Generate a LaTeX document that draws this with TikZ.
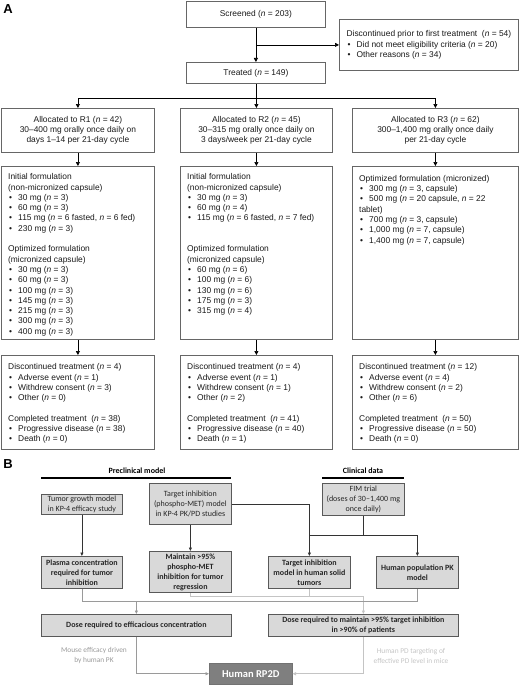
\documentclass[tikz,border=0pt]{standalone}
\usepackage{fontspec}
\setmainfont{Liberation Sans}
\newfontfamily\carl{Carlito}
\usetikzlibrary{arrows.meta}
\definecolor{bfill}{HTML}{D9D9D9}
\definecolor{bdraw}{HTML}{595959}
\definecolor{midg}{HTML}{9A9A9A}
\definecolor{ltg}{HTML}{C4C4C4}
\definecolor{rpfill}{HTML}{7F7F7F}
\newcommand{\bitem}[1]{\makebox[10pt][l]{\hspace{1pt}•}#1}
\newcommand{\nn}{\textit{n}}
\begin{document}
\begin{tikzpicture}[x=1pt,y=-1pt,
  atext/.style={font=\fontsize{8.4}{10.3}\selectfont, text=black!90},
  abox/.style={draw=black!60, line width=0.8pt, inner sep=0pt, anchor=north west, atext},
  listt/.style={inner sep=0pt, anchor=north west, align=left, atext},
  aline/.style={draw=black, line width=0.7pt},
  aarr/.style={aline, -{Triangle[length=4pt,width=4pt]}},
  bfont/.style={font=\carl\fontsize{8}{10}\selectfont},
  bbox/.style={draw=bdraw, fill=bfill, line width=0.8pt, inner sep=1pt, anchor=north west, align=center, bfont, text=black!85},
  bbold/.style={bbox, font=\carl\bfseries\fontsize{8}{10}\selectfont},
  bcon/.style={draw=black!80, line width=0.8pt},
  barr/.style={-{Triangle[length=3.5pt,width=3pt]}},
  gcon/.style={draw=midg, line width=0.8pt},
  lcon/.style={draw=ltg, line width=0.8pt},
  note/.style={align=center, inner sep=0pt, font=\carl\fontsize{7.4}{10}\selectfont},
  ttl/.style={inner sep=0pt, font=\carl\bfseries\fontsize{8}{10}\selectfont}
]
\useasboundingbox (0,0) rectangle (520,685);

% ---------- Part A ----------
\node[inner sep=0pt, font=\bfseries\fontsize{13}{13}\selectfont] (labA) at (8,9) {A};

\node[abox, minimum width=139pt, minimum height=26pt] (scr) at (186,1) {Screened (\nn{} = 203)};
\node[abox, minimum width=179pt, minimum height=51pt, align=left] (disc) at (339,19)
  {Discontinued prior to first treatment\ \ (\nn{} = 54)\\
   \bitem{Did not meet eligibility criteria (\nn{} = 20)}\\
   \bitem{Other reasons (\nn{} = 34)}};
\node[abox, minimum width=139pt, minimum height=21pt] (trt) at (186,62) {Treated (\nn{} = 149)};

\node[abox, minimum width=153pt, minimum height=44pt, align=center] (r1) at (1,108)
  {Allocated to R1 (\nn{} = 42)\\ 30–400 mg orally once daily on\\ days 1–14 per 21-day cycle};
\node[abox, minimum width=152pt, minimum height=44pt, align=center] (r2) at (180,108)
  {Allocated to R2 (\nn{} = 45)\\ 30–315 mg orally once daily on\\ 3 days/week per 21-day cycle};
\node[abox, minimum width=166pt, minimum height=44pt, align=center] (r3) at (352,108)
  {Allocated to R3 (\nn{} = 62)\\ 300–1,400 mg orally once daily\\ per 21-day cycle};

\node[abox, minimum width=153pt, minimum height=173pt] (f1) at (1,166) {};
\node[abox, minimum width=152pt, minimum height=173pt] (f2) at (180,166) {};
\node[abox, minimum width=166pt, minimum height=173pt] (f3) at (352,166) {};

\node[listt] (f1t) at ([xshift=7pt,yshift=-7.5pt]f1.north west)
  {Initial formulation\\
   (non-micronized capsule)\\
   \bitem{30 mg (\nn{} = 3)}\\
   \bitem{60 mg (\nn{} = 3)}\\
   \bitem{115 mg (\nn{} = 6 fasted, \nn{} = 6 fed)}\\
   \bitem{230 mg (\nn{} = 3)}\\[10.3pt]
   Optimized formulation\\
   (micronized capsule)\\
   \bitem{30 mg (\nn{} = 3)}\\
   \bitem{60 mg (\nn{} = 3)}\\
   \bitem{100 mg (\nn{} = 3)}\\
   \bitem{145 mg (\nn{} = 3)}\\
   \bitem{215 mg (\nn{} = 3)}\\
   \bitem{300 mg (\nn{} = 3)}\\
   \bitem{400 mg (\nn{} = 3)}};
\node[listt] (f2t) at ([xshift=7pt,yshift=-7.5pt]f2.north west)
  {Initial formulation\\
   (non-micronized capsule)\\
   \bitem{30 mg (\nn{} = 3)}\\
   \bitem{60 mg (\nn{} = 4)}\\
   \bitem{115 mg (\nn{} = 6 fasted, \nn{} = 7 fed)}\\[20.6pt]
   Optimized formulation\\
   (micronized capsule)\\
   \bitem{60 mg (\nn{} = 6)}\\
   \bitem{100 mg (\nn{} = 6)}\\
   \bitem{130 mg (\nn{} = 6)}\\
   \bitem{175 mg (\nn{} = 3)}\\
   \bitem{315 mg (\nn{} = 4)}};
\node[listt] (f3t) at ([xshift=7pt,yshift=-9pt]f3.north west)
  {Optimized formulation (micronized)\\
   \bitem{300 mg (\nn{} = 3, capsule)}\\
   \bitem{500 mg (\nn{} = 20 capsule, \nn{} = 22}\\
   tablet)\\
   \bitem{700 mg (\nn{} = 3, capsule)}\\
   \bitem{1,000 mg (\nn{} = 7, capsule)}\\
   \bitem{1,400 mg (\nn{} = 7, capsule)}};

\node[abox, minimum width=153pt, minimum height=94pt] (d1) at (1,355) {};
\node[abox, minimum width=152pt, minimum height=94pt] (d2) at (180,355) {};
\node[abox, minimum width=166pt, minimum height=94pt] (d3) at (352,355) {};

\node[listt] (d1t) at ([xshift=7pt,yshift=-8.5pt]d1.north west)
  {Discontinued treatment (\nn{} = 4)\\
   \bitem{Adverse event (\nn{} = 1)}\\
   \bitem{Withdrew consent (\nn{} = 3)}\\
   \bitem{Other (\nn{} = 0)}\\[10.3pt]
   Completed treatment\ \ (\nn{} = 38)\\
   \bitem{Progressive disease (\nn{} = 38)}\\
   \bitem{Death (\nn{} = 0)}};
\node[listt] (d2t) at ([xshift=7pt,yshift=-8.5pt]d2.north west)
  {Discontinued treatment (\nn{} = 4)\\
   \bitem{Adverse event (\nn{} = 1)}\\
   \bitem{Withdrew consent (\nn{} = 1)}\\
   \bitem{Other (\nn{} = 2)}\\[10.3pt]
   Completed treatment\ \ (\nn{} = 41)\\
   \bitem{Progressive disease (\nn{} = 40)}\\
   \bitem{Death (\nn{} = 1)}};
\node[listt] (d3t) at ([xshift=7pt,yshift=-8.5pt]d3.north west)
  {Discontinued treatment (\nn{} = 12)\\
   \bitem{Adverse event (\nn{} = 4)}\\
   \bitem{Withdrew consent (\nn{} = 2)}\\
   \bitem{Other (\nn{} = 6)}\\[10.3pt]
   Completed treatment\ \ (\nn{} = 50)\\
   \bitem{Progressive disease (\nn{} = 50)}\\
   \bitem{Death (\nn{} = 0)}};

% connectors A
\draw[aarr] (scr.south) -- (trt.north);
\draw[aarr] (scr.south |- disc.west) -- (disc.west);
\coordinate (splity) at (0,98);
\draw[aline] (trt.south) -- (trt.south |- splity);
\draw[aline] (r1.north |- splity) -- (r3.north |- splity);
\draw[aarr] (r1.north |- splity) -- (r1.north);
\draw[aarr] (r2.north |- splity) -- (r2.north);
\draw[aarr] (r3.north |- splity) -- (r3.north);
\draw[aarr] (r1.south) -- (f1.north);
\draw[aarr] (r2.south) -- (f2.north);
\draw[aarr] (r3.south) -- (f3.north);
\draw[aarr] (f1.south) -- (d1.north);
\draw[aarr] (f2.south) -- (d2.north);
\draw[aarr] (f3.south) -- (d3.north);

% ---------- Part B ----------
\node[inner sep=0pt, font=\bfseries\fontsize{13}{13}\selectfont] (labB) at (8,464) {B};
\node[ttl] (pre) at (137,471) {Preclinical model};
\node[ttl] (cli) at (363,471) {Clinical data};
\draw[line width=1.6pt, black] (41,478) -- (231,478);
\draw[line width=1.6pt, black] (322,478) -- (404,478);

\node[bbox, minimum width=81pt, minimum height=20pt] (tum) at (41,494) {Tumor growth model\\ in KP-4 efficacy study};
\node[bbox, minimum width=82pt, minimum height=41pt] (tin) at (149,483) {Target inhibition\\ (phospho-MET) model\\ in KP-4 PK/PD studies};
\node[bbox, minimum width=82pt, minimum height=32pt] (fim) at (322,483) {FIM trial\\ (doses of 30–1,400 mg\\ once daily)};

\node[bbold, minimum width=81pt, minimum height=32pt] (pla) at (41,556) {Plasma concentration\\ required for tumor\\ inhibition};
\node[bbold, minimum width=82pt, minimum height=41pt] (mai) at (149,551) {Maintain >95\%\\ phospho-MET\\ inhibition for tumor\\ regression};
\node[bbold, minimum width=82pt, minimum height=32pt] (tih) at (268,556) {Target inhibition\\ model in human solid\\ tumors};
\node[bbold, minimum width=82pt, minimum height=32pt] (ppk) at (376,556) {Human population PK\\ model};

\node[bbold, minimum width=190pt, minimum height=22pt] (deff) at (41,614) {Dose required to efficacious concentration};
\node[bbold, minimum width=190pt, minimum height=22pt] (dmai) at (268,614) {Dose required to maintain >95\% target inhibition\\ in >90\% of patients};

\node[anchor=north west, fill=rpfill, draw=rpfill!90!black, line width=0.5pt, minimum width=83pt, minimum height=21pt, inner sep=0pt, text=white, font=\carl\bfseries\fontsize{10.5}{12}\selectfont] (rp) at (209,663) {Human RP2D};

\node[note, text=midg] (mnote) at (94,656) {Mouse efficacy driven\\ by human PK};
\node[note, text=ltg] (hnote) at (411,656) {Human PD targeting of\\ effective PD level in mice};

% connectors B
\draw[bcon, barr] (tum.south) -- (pla.north);
\draw[bcon, barr] (tin.south) -- (mai.north);
\draw[bcon, barr] (tin.east) -| (tih.north);
\coordinate (fimj) at (0,535);
\draw[bcon] (fim.south) -- (fim.south |- fimj);
\draw[bcon, barr] (tih.north |- fimj) -| (ppk.north);

\coordinate (gj) at (0,601);
\coordinate (lj) at (0,596);
\draw[lcon] (tih.south) -- (tih.south |- lj);
\draw[lcon, barr] (mai.south) |- (dmai.north |- lj) -- (dmai.north);
\draw[gcon] (pla.south) |- (ppk.south |- gj) -- (ppk.south);
\draw[gcon, barr] (deff.north |- gj) -- (deff.north);

\draw[gcon, barr] (deff.south) |- (rp.west);
\draw[lcon, barr] (dmai.south) |- (rp.east);
\end{tikzpicture}
\end{document}
